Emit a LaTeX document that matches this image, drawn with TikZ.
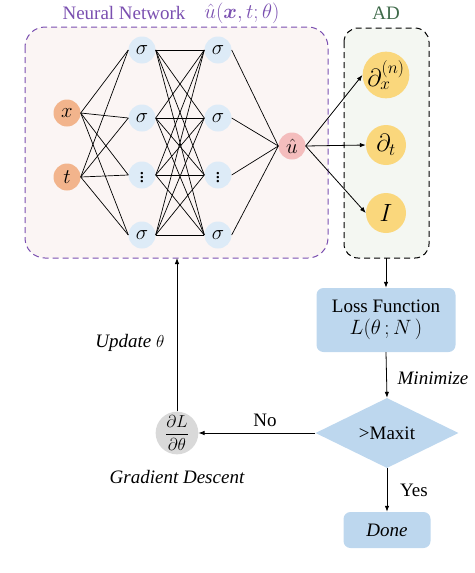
\documentclass[tikz,border=0pt]{standalone}
\usepackage{fontspec}
\setmainfont{Liberation Serif}
\usepackage{amsmath}
\usetikzlibrary{shapes.geometric,arrows.meta}
\definecolor{nnpurple}{HTML}{7A4FB0}
\definecolor{nnfill}{HTML}{FBF5F4}
\definecolor{adfill}{HTML}{F4F7F2}
\definecolor{adgreen}{HTML}{3F6A4A}
\definecolor{inorange}{HTML}{F2B48C}
\definecolor{hidblue}{HTML}{DDEBF7}
\definecolor{outpink}{HTML}{F4BDBD}
\definecolor{adyellow}{HTML}{FAD77C}
\definecolor{boxblue}{HTML}{BDD7EE}
\definecolor{gradgray}{HTML}{D9D9D9}
\newcommand{\bigmath}[1]{{\fontsize{23}{25}\selectfont$#1$}}
\newcommand{\midmath}[1]{{\fontsize{20.5}{23}\selectfont$#1$}}
\tikzset{
  base/.style={font=\fontsize{19}{22}\selectfont},
  innode/.style={circle, fill=inorange, minimum size=27pt, inner sep=0pt},
  hidnode/.style={circle, fill=hidblue, minimum size=27pt, inner sep=0pt},
  outnode/.style={circle, fill=outpink, minimum size=27pt, inner sep=0pt},
  adnode/.style={circle, fill=adyellow, minimum size=40pt, inner sep=0pt},
  flowbox/.style={rectangle, rounded corners=7pt, fill=boxblue, align=center, inner sep=0pt},
  conn/.style={line width=0.7pt, black},
  arr/.style={line width=0.8pt, black, -{Latex[length=6pt,width=4.5pt]}},
  lbl/.style={font=\fontsize{19}{22}\selectfont\itshape},
}
\begin{document}
\begin{tikzpicture}[x=1pt,y=-1pt,base]
\useasboundingbox (0,0) rectangle (474,573);
% boxes
\draw[nnpurple, line width=1pt, dash pattern=on 6pt off 4pt, fill=nnfill, rounded corners=20pt] (25,27) rectangle (328,258);
\draw[black, line width=1pt, dash pattern=on 6pt off 4pt, fill=adfill, rounded corners=14pt] (344,28) rectangle (429,258);
\node[text=nnpurple, inner sep=0pt] (nntitle) at (124,13) {Neural Network};
\node[text=nnpurple, inner sep=0pt] (nnformula) at (242,13) {{\fontsize{21}{23}\selectfont$\hat{u}(\boldsymbol{x},t;\theta)$}};
\node[text=adgreen] (adtitle) at (386,13) {AD};
% nodes
\node[innode] (x) at (67,113) {\midmath{x}};
\node[innode] (t) at (67,177) {\midmath{t}};
\foreach \i/\y/\s in {1/50/\sigma,2/118/\sigma,3/175/\vdots,4/235/\sigma}{
  \node[hidnode] (a\i) at (142,\y) {\midmath{\s}};
  \node[hidnode] (b\i) at (218,\y) {\midmath{\s}};
}
\node[outnode] (u) at (292,146) {\midmath{\hat{u}}};
% connections
\foreach \i in {1,2,3,4}{
  \draw[conn] (x.east) -- (a\i.west);
  \draw[conn] (t.east) -- (a\i.west);
  \draw[conn] (b\i.east) -- (u.west);
  \foreach \j in {1,2,3,4}{
    \draw[conn] (a\i.east) -- (b\j.west);
  }
}
% AD nodes
\node[adnode] (dx) at (386,75) {\bigmath{\partial_x^{(n)}}};
\node[adnode] (dt) at (386,145) {\bigmath{\partial_t}};
\node[adnode] (id) at (386,213) {\bigmath{I}};
\draw[arr] (u.east) -- (dx.west);
\draw[arr] (u.east) -- (dt.west);
\draw[arr] (u.east) -- (id.west);
% flow
\node[flowbox, minimum width=139pt, minimum height=64pt] (loss) at (386,320) {Loss Function\\[0pt] \midmath{L(\theta\,;N\,)}};
\node[diamond, fill=boxblue, minimum width=143pt, minimum height=70pt, aspect=2, inner sep=1pt] (dec) at (387,433) {>Maxit};
\node[flowbox, minimum width=87pt, minimum height=36pt] (done) at (387,530) {\itshape Done};
\node[circle, fill=gradgray, minimum size=42pt, inner sep=0pt] (grad) at (177,433) {\fontsize{17}{19}\selectfont$\dfrac{\partial L}{\partial\theta}$};
\coordinate (adbot) at (386,258);
\coordinate (nnbot) at (177,258);
\draw[arr] (adbot) -- (loss.north);
\draw[arr] (loss.south) -- (dec.north);
\draw[arr] (dec.west) -- (grad.east);
\draw[arr] (dec.south) -- (done.north);
\draw[arr] (grad.north) -- (nnbot);
% labels
\node[lbl] (minlbl) at (433,378) {Minimize};
\node (nolbl) at (265,420) {No};
\node (yeslbl) at (414,490) {Yes};
\node[lbl] (gdlbl) at (177,477) {Gradient Descent};
\node[lbl] (uplbl) at (130,343) {Update $\theta$};
\end{tikzpicture}
\end{document}
